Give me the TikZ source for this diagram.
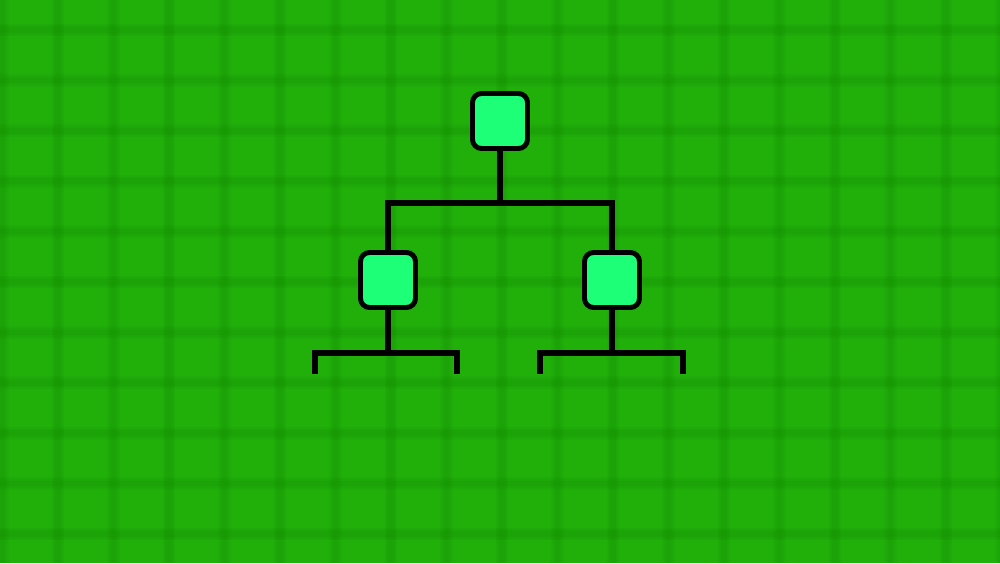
\documentclass[tikz,border=0pt]{standalone}
\usepackage{xcolor}
\usepackage{tikz}

\definecolor{field}{RGB}{33,175,10}
\definecolor{gridline}{RGB}{10,110,0}
\definecolor{boxfill}{RGB}{30,255,120}

\begin{document}
\begin{tikzpicture}[x=0.01cm, y=-0.01cm,
    box/.style={draw, rounded corners=2.6pt, fill=boxfill, line width=1.4pt, minimum size=0.55cm, inner sep=0pt},
    branch/.style={line width=1.5pt},
    band/.style={gridline, line width=#1, opacity=0.055}]
     \fill[field] (0,0) rectangle (1000,563);
     \useasboundingbox (0,0) rectangle (1000,563);

     % blurred grid behind the tree
     \foreach \i in {0,...,18} {
       \foreach \w in {3.6pt,2.6pt,1.6pt}
         \draw[band=\w] (2.5+55.5*\i,0) -- (2.5+55.5*\i,563);
     }
     \foreach \j in {0,...,10} {
       \foreach \w in {3.6pt,2.6pt,1.6pt}
         \draw[band=\w] (0,30+50.4*\j) -- (1000,30+50.4*\j);
     }

     \node[box] (root) at (500,121) {};
     \node[box] (left) at (388,280) {};
     \node[box] (right) at (612,280) {};

     \coordinate (split) at (500,203);
     \coordinate (lsplit) at (388,353);
     \coordinate (rsplit) at (612,353);
     \coordinate (la) at (315,374);
     \coordinate (lb) at (457,374);
     \coordinate (ra) at (540,374);
     \coordinate (rb) at (683,374);

     \draw[branch] (root) -- (split);
     \draw[branch] (left) |- (split) -| (right);
     \draw[branch] (left) -- (lsplit);
     \draw[branch] (la) |- (lsplit) -| (lb);
     \draw[branch] (right) -- (rsplit);
     \draw[branch] (ra) |- (rsplit) -| (rb);
 \end{tikzpicture}
\end{document}
